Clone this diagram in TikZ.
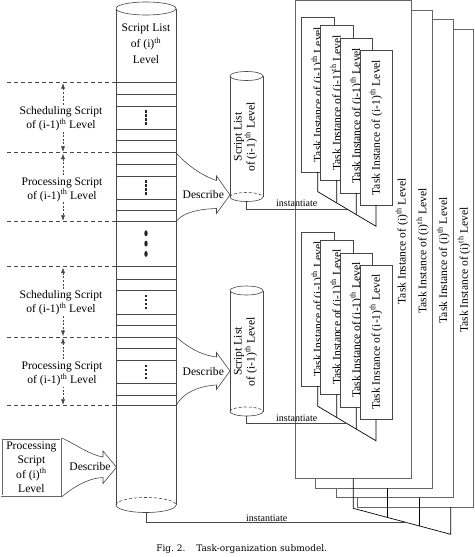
\documentclass[tikz,border=0pt]{standalone}
\usepackage{fontspec}
\setmainfont{Liberation Serif}
\newfontfamily\capfont{DejaVu Serif}
\usetikzlibrary{arrows.meta,calc}
\newcommand{\supth}{\textsuperscript{th}}
\begin{document}
\begin{tikzpicture}[x=1pt,y=-1pt,
  ln/.style={draw=black!72,line width=0.6pt},
  lbl/.style={font=\fontsize{11.6}{14.2}\selectfont,align=center,inner sep=0.5pt},
  smalllbl/.style={font=\fontsize{10}{12}\selectfont,inner sep=1pt},
  guide/.style={draw=black!72,line width=0.6pt,dash pattern=on 4pt off 3pt},
  spanarrow/.style={draw=black!72,line width=0.5pt,dash pattern=on 2pt off 1.6pt,<->,>={Latex[length=5.5pt,width=4pt]},shorten <=0.8pt,shorten >=0.8pt},
  bigbox/.style={draw=black!60,line width=0.6pt,fill=white,inner sep=0pt,outer sep=0pt,anchor=north west,minimum width=116.4pt,minimum height=478pt},
  taskbox/.style={ln,fill=white,inner sep=0pt,outer sep=0pt,anchor=north west,minimum width=32.5pt,minimum height=154.5pt},
  fork/.style={draw=black,line width=0.7pt},
  conn/.style={draw=black!72,line width=0.6pt},
  describe/.style={ln,line join=miter},
]
\useasboundingbox (0,0) rectangle (474,557);

% ---------- big task instances of level i ----------
\node[bigbox] (R4) at (357.1,29) {};
\node[lbl,rotate=90] (R4t) at ($(R4.east)+(-9.5,2)$) {Task Instance of (i)\supth{} Level};
\node[bigbox] (R3) at (336.4,19.5) {};
\node[lbl,rotate=90] (R3t) at ($(R3.east)+(-9.5,2)$) {Task Instance of (i)\supth{} Level};
\node[bigbox] (R2) at (315.7,10) {};
\node[lbl,rotate=90] (R2t) at ($(R2.east)+(-9.5,2)$) {Task Instance of (i)\supth{} Level};
\node[bigbox] (R1) at (295,0.5) {};
\node[lbl,rotate=90] (R1t) at ($(R1.east)+(-9.5,2)$) {Task Instance of (i)\supth{} Level};

% ---------- upper group of (i-1) task instances ----------
\node[taskbox] (A1) at (301.5,17.3) {};
\node[lbl,rotate=90] at (A1.center) {Task Instance of (i-1)\supth{} Level};
\node[taskbox] (A2) at (320.5,25.5) {};
\node[lbl,rotate=90] at (A2.center) {Task Instance of (i-1)\supth{} Level};
\node[taskbox] (A3) at (340,38.3) {};
\node[lbl,rotate=90] at (A3.center) {Task Instance of (i-1)\supth{} Level};
\node[taskbox] (A4) at (359.8,50.3) {};
\node[lbl,rotate=90] at (A4.center) {Task Instance of (i-1)\supth{} Level};

% ---------- lower group of (i-1) task instances ----------
\node[taskbox] (C1) at (301.5,231.8) {};
\node[lbl,rotate=90] at (C1.center) {Task Instance of (i-1)\supth{} Level};
\node[taskbox] (C2) at (320.5,240) {};
\node[lbl,rotate=90] at (C2.center) {Task Instance of (i-1)\supth{} Level};
\node[taskbox] (C3) at (340,252.8) {};
\node[lbl,rotate=90] at (C3.center) {Task Instance of (i-1)\supth{} Level};
\node[taskbox] (C4) at (359.8,264.8) {};
\node[lbl,rotate=90] at (C4.center) {Task Instance of (i-1)\supth{} Level};

% ---------- forks ----------
\coordinate (d1a) at (317.75,191.7);
\coordinate (d1b) at (376.05,226.3);
\draw[fork] (A1.south) -- (d1a) -- (d1b) -- (A4.south);
\draw[fork] (A2.south) -- ($(d1a)!0.3259!(d1b)$);
\draw[fork] (A3.south) -- ($(d1a)!0.6604!(d1b)$);

\coordinate (d2a) at (317.75,406.2);
\coordinate (d2b) at (376.05,440.8);
\draw[fork] (C1.south) -- (d2a) -- (d2b) -- (C4.south);
\draw[fork] (C2.south) -- ($(d2a)!0.3259!(d2b)$);
\draw[fork] (C3.south) -- ($(d2a)!0.6604!(d2b)$);

\coordinate (ma) at (353.2,508.3);
\coordinate (mb) at (450.7,534.3);
\draw[fork] (R1.south) -- (ma) -- (mb) -- (mb |- R4.south);
\coordinate (m2) at ($(ma)!0.353!(mb)$);
\draw[fork] (m2 |- R2.south) -- (m2);
\coordinate (m3) at ($(ma)!0.678!(mb)$);
\draw[fork] (m3 |- R3.south) -- (m3);

% ---------- main cylinder: script list of level i ----------
\draw[ln] (116,8.5) -- (116,505) (176,8.5) -- (176,505);
\draw[ln] (146,8.5) ellipse [x radius=30pt,y radius=6.5pt];
\draw[ln] (116,505) arc[start angle=180,end angle=360,x radius=30pt,y radius=7.5pt];
\draw[ln,dash pattern=on 3pt off 2pt] (116,505) arc[start angle=180,end angle=0,x radius=30pt,y radius=7.5pt];
\coordinate (mcb) at (146,512.5);
\node[lbl,font=\fontsize{11.6}{16}\selectfont] (mcl) at (146,44) {Script List\\of (i)\supth\\Level};
\foreach \y in {82.3,94.3,106,129,140.7,152.7,164.3,176,199,210.7,221.7,266.7,279,290.7,314,325.7,337,348.3,360,383.3,395,405.7}
  \draw[ln] (116,\y) -- (176,\y);
\foreach \y in {117.5,187.5,302.3,371.7}
  \foreach \d in {-6,-2,2,6}
    \fill[black!85] (145,\y+\d-1.1) rectangle (147,\y+\d+1.1);
\foreach \y in {233.3,243.6,253.9}
  \fill[black!85] (146,\y) ellipse [x radius=1.7pt,y radius=3pt];

% ---------- left guides ----------
\foreach \y in {82.3,152.7,221.7,266.7,337,405.7}
  \draw[guide] (7,\y) -- (116,\y);
\draw[spanarrow] (63,82.3) -- (63,152.7);
\draw[spanarrow] (63,152.7) -- (63,221.7);
\draw[spanarrow] (63,266.7) -- (63,337);
\draw[spanarrow] (63,337) -- (63,405.7);
\node[lbl,fill=white] (ss1) at (61,119) {Scheduling Script\\of (i-1)\supth{} Level};
\node[lbl,fill=white] (ps1) at (62,189.5) {Processing Script\\of (i-1)\supth{} Level};
\node[lbl,fill=white] (ss2) at (61,303) {Scheduling Script\\of (i-1)\supth{} Level};
\node[lbl,fill=white] (ps2) at (62,374) {Processing Script\\of (i-1)\supth{} Level};

% ---------- processing script of level i ----------
\node[lbl,draw=black!60,double,double distance=0.9pt,line width=0.4pt,minimum width=59pt,minimum height=57pt] (pb) at (31.4,467.3) {Processing\\Script\\of (i)\supth\\Level};

% ---------- describe arrows ----------
\draw[describe] (176,152.7) .. controls (185,163) and (200,175) .. (216.5,180.5) -- (216.5,176) -- (230,195) -- (216.5,213.5) -- (216.5,208.5) .. controls (198,209) and (182,213) .. (176,221.7);
\node[lbl] (ds1) at (203.3,195) {Describe};
\draw[describe] (176,336.7) .. controls (186,346) and (200,355) .. (216.5,357) -- (216.5,352.5) -- (230,371) -- (216.5,389.5) -- (216.5,385) .. controls (196,386) and (181,395) .. (176,406);
\node[lbl] (ds2) at (203.3,371.5) {Describe};
\draw[describe] (62,438) .. controls (75,444) and (90,455) .. (103,457) -- (103,451) -- (116.5,467.3) -- (103,483.5) -- (103,477.5) .. controls (88,478) and (72,488) .. (62,496.7);
\node[lbl] (ds0) at (90,466.7) {Describe};

% ---------- small cylinders: script list of level i-1 ----------
\draw[ln] (230,76) -- (230,197) (263,76) -- (263,197);
\draw[ln] (246.5,76) ellipse [x radius=16.5pt,y radius=4.5pt];
\draw[ln] (230,197) arc[start angle=180,end angle=360,x radius=16.5pt,y radius=4.5pt];
\draw[ln,dash pattern=on 3pt off 2pt] (230,197) arc[start angle=180,end angle=0,x radius=16.5pt,y radius=4.5pt];
\node[lbl,rotate=90,font=\fontsize{11.6}{13}\selectfont] (sc1) at (245.5,137) {Script List\\of (i-1)\supth{} Level};
\coordinate (s1b) at (246.5,201.5);

\draw[ln] (230,290.5) -- (230,411.5) (263,290.5) -- (263,411.5);
\draw[ln] (246.5,290.5) ellipse [x radius=16.5pt,y radius=4.5pt];
\draw[ln] (230,411.5) arc[start angle=180,end angle=360,x radius=16.5pt,y radius=4.5pt];
\draw[ln,dash pattern=on 3pt off 2pt] (230,411.5) arc[start angle=180,end angle=0,x radius=16.5pt,y radius=4.5pt];
\node[lbl,rotate=90,font=\fontsize{11.6}{13}\selectfont] (sc2) at (245.5,351.5) {Script List\\of (i-1)\supth{} Level};
\coordinate (s2b) at (246.5,416);

% ---------- instantiate connectors ----------
\coordinate (j1) at ($(d1a)!0.5!(d1b)$);
\draw[conn] (s1b) |- (j1);
\node[smalllbl] (in1) at (296.7,203.3) {instantiate};
\coordinate (j2) at ($(d2a)!0.5!(d2b)$);
\draw[conn] (s2b) |- (j2);
\node[smalllbl] (in2) at (296.7,418) {instantiate};
\coordinate (mj) at ($(ma)!0.554!(mb)$);
\draw[conn] (mcb) |- (mj);
\node[smalllbl] (in3) at (266.7,517.8) {instantiate};

% ---------- caption ----------
\node[font=\capfont\fontsize{9}{11}\selectfont,inner sep=0pt] (cap) at (241.7,549) {Fig.~2.\hspace{1.2em}Task-organization submodel.};
\end{tikzpicture}
\end{document}
